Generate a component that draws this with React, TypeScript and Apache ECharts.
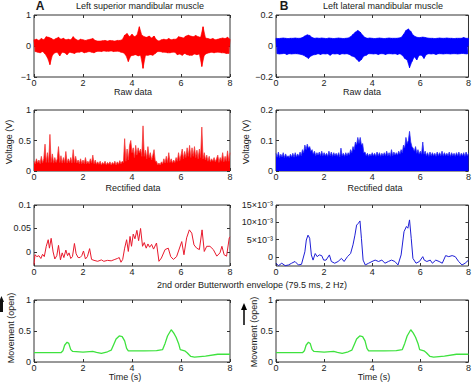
import React, { useEffect, useRef } from 'react';
import * as echarts from 'echarts';

const DT = 0.05;
const xTicks = [0, 2, 4, 6, 8];

const rawA = [
  0.2, -0.18, 0.22, -0.2, 0.18, -0.22, 0.24, -0.18, 0.2, -0.25,
  0.3, -0.38, 0.28, -0.6, 0.25, -0.3, 0.2, -0.22, 0.24, -0.2,
  0.28, -0.32, 0.22, -0.2, 0.25, -0.22, 0.2, -0.28, 0.22, -0.2,
  0.2, -0.22, 0.3, -0.24, 0.22, -0.2, 0.18, -0.2, 0.22, -0.18,
  0.2, -0.22, 0.18, -0.2, 0.2, -0.18, 0.22, -0.2, 0.24, -0.22,
  0.18, -0.18, 0.16, -0.17, 0.16, -0.18, 0.17, -0.16, 0.18, -0.17,
  0.16, -0.17, 0.18, -0.16, 0.17, -0.18, 0.16, -0.17, 0.18, -0.17,
  0.18, -0.2, 0.2, -0.22, 0.35, -0.3, 0.4, -0.5, 0.3, -0.32,
  0.38, -0.3, 0.3, -0.28, 0.35, -0.32, 0.62, -0.3, 0.35, -0.72,
  0.3, -0.3, 0.28, -0.3, 0.32, -0.28, 0.26, -0.3, 0.32, -0.24,
  0.2, -0.18, 0.16, -0.18, 0.2, -0.2, 0.22, -0.2, 0.2, -0.22,
  0.24, -0.22, 0.2, -0.2, 0.22, -0.2, 0.22, -0.28, 0.3, -0.26,
  0.28, -0.3, 0.26, -0.24, 0.32, -0.28, 0.35, -0.3, 0.32, -0.3,
  0.3, -0.26, 0.34, -0.28, 0.3, -0.26, 0.28, -0.66, 0.62, -0.3,
  0.26, -0.24, 0.24, -0.22, 0.22, -0.2, 0.24, -0.22, 0.2, -0.2,
  0.22, -0.2, 0.24, -0.22, 0.26, -0.22, 0.24, -0.24, 0.28, -0.24,
  0.22,
];

const rawB = [
  0.05, -0.05, 0.048, -0.052, 0.05, -0.05, 0.052, -0.048, 0.05, -0.055,
  0.048, -0.05, 0.05, -0.052, 0.05, -0.05, 0.052, -0.05, 0.05, -0.052,
  0.05, -0.055, 0.055, -0.06, 0.065, -0.07, 0.072, -0.08, 0.068, -0.065,
  0.055, -0.058, 0.05, -0.055, 0.052, -0.05, 0.05, -0.055, 0.052, -0.05,
  0.05, -0.052, 0.048, -0.05, 0.052, -0.06, 0.05, -0.05, 0.048, -0.052,
  0.05, -0.05, 0.052, -0.055, 0.05, -0.05, 0.048, -0.052, 0.05, -0.05,
  0.052, -0.055, 0.06, -0.065, 0.075, -0.07, 0.09, -0.085, 0.1, -0.1,
  0.09, -0.088, 0.07, -0.065, 0.055, -0.06, 0.05, -0.05, 0.052, -0.05,
  0.05, -0.052, 0.048, -0.05, 0.05, -0.055, 0.052, -0.05, 0.05, -0.05,
  0.048, -0.055, 0.05, -0.05, 0.052, -0.05, 0.05, -0.052, 0.05, -0.05,
  0.05, -0.055, 0.052, -0.05, 0.055, -0.06, 0.075, -0.08, 0.1, -0.09,
  0.11, -0.14, 0.095, -0.1, 0.07, -0.07, 0.06, -0.09, 0.055, -0.06,
  0.055, -0.06, 0.058, -0.08, 0.055, -0.055, 0.052, -0.05, 0.05, -0.052,
  0.05, -0.05, 0.048, -0.055, 0.05, -0.05, 0.052, -0.05, 0.05, -0.052,
  0.05, -0.05, 0.052, -0.05, 0.05, -0.052, 0.05, -0.05, 0.048, -0.05,
  0.05, -0.052, 0.05, -0.05, 0.05, -0.048, 0.055, -0.05, 0.05, -0.052,
  0.05,
];

const rectA = [
  0.16, 0.12, 0.2, 0.13, 0.18, 0.12, 0.24, 0.13, 0.2, 0.44,
  0.14, 0.3, 0.14, 0.6, 0.14, 0.28, 0.13, 0.22, 0.14, 0.2,
  0.4, 0.14, 0.25, 0.13, 0.22, 0.14, 0.32, 0.13, 0.2, 0.14,
  0.22, 0.13, 0.35, 0.14, 0.24, 0.13, 0.18, 0.12, 0.2, 0.12,
  0.18, 0.12, 0.22, 0.12, 0.16, 0.12, 0.2, 0.13, 0.26, 0.12,
  0.18, 0.11, 0.15, 0.11, 0.16, 0.1, 0.14, 0.11, 0.16, 0.1,
  0.14, 0.11, 0.15, 0.1, 0.14, 0.11, 0.16, 0.1, 0.15, 0.11,
  0.17, 0.12, 0.16, 0.14, 0.53, 0.16, 0.36, 0.18, 0.42, 0.5,
  0.3, 0.38, 0.22, 0.42, 0.26, 0.38, 0.3, 0.36, 0.24, 0.74,
  0.24, 0.34, 0.2, 0.4, 0.22, 0.3, 0.18, 0.26, 0.35, 0.16,
  0.16, 0.1, 0.13, 0.1, 0.15, 0.12, 0.2, 0.13, 0.24, 0.14,
  0.3, 0.14, 0.2, 0.13, 0.18, 0.14, 0.22, 0.16, 0.3, 0.17,
  0.26, 0.36, 0.2, 0.32, 0.22, 0.38, 0.24, 0.42, 0.22, 0.38,
  0.24, 0.4, 0.22, 0.34, 0.2, 0.36, 0.22, 0.72, 0.2, 0.3,
  0.18, 0.26, 0.16, 0.24, 0.15, 0.2, 0.16, 0.22, 0.15, 0.2,
  0.26, 0.14, 0.22, 0.16, 0.3, 0.15, 0.24, 0.16, 0.33, 0.16,
  0.3,
];

const rectB = [
  0.058, 0.045, 0.062, 0.044, 0.055, 0.046, 0.06, 0.044, 0.056, 0.045,
  0.05, 0.044, 0.055, 0.046, 0.058, 0.045, 0.06, 0.046, 0.056, 0.048,
  0.062, 0.05, 0.07, 0.06, 0.085, 0.07, 0.088, 0.075, 0.08, 0.065,
  0.07, 0.055, 0.065, 0.05, 0.06, 0.052, 0.062, 0.05, 0.065, 0.05,
  0.06, 0.05, 0.058, 0.048, 0.065, 0.05, 0.062, 0.048, 0.06, 0.05,
  0.058, 0.048, 0.06, 0.046, 0.075, 0.05, 0.058, 0.048, 0.06, 0.05,
  0.06, 0.052, 0.07, 0.06, 0.08, 0.07, 0.095, 0.085, 0.11, 0.09,
  0.11, 0.085, 0.09, 0.06, 0.062, 0.05, 0.058, 0.048, 0.056, 0.05,
  0.06, 0.05, 0.058, 0.048, 0.062, 0.05, 0.06, 0.048, 0.058, 0.05,
  0.06, 0.05, 0.065, 0.05, 0.06, 0.048, 0.07, 0.05, 0.062, 0.052,
  0.06, 0.052, 0.065, 0.055, 0.07, 0.06, 0.085, 0.075, 0.11, 0.09,
  0.1, 0.13, 0.095, 0.08, 0.075, 0.065, 0.08, 0.058, 0.07, 0.055,
  0.065, 0.055, 0.095, 0.055, 0.065, 0.05, 0.06, 0.048, 0.062, 0.05,
  0.06, 0.05, 0.058, 0.048, 0.062, 0.05, 0.06, 0.05, 0.065, 0.05,
  0.06, 0.05, 0.058, 0.05, 0.062, 0.048, 0.06, 0.05, 0.058, 0.048,
  0.06, 0.05, 0.062, 0.048, 0.058, 0.05, 0.06, 0.048, 0.062, 0.05,
  0.058,
];

const envATime = [
  0, 0.04, 0.12, 0.2, 0.28, 0.35, 0.42, 0.5, 0.58, 0.63, 0.7, 0.78, 0.85, 0.93,
  1.0, 1.08, 1.15, 1.22, 1.3, 1.37, 1.43, 1.5, 1.57, 1.65, 1.72, 1.8, 1.88, 1.95,
  2.02, 2.1, 2.18, 2.27, 2.35, 2.45, 2.6, 2.75, 2.85, 3.0, 3.15, 3.3, 3.4, 3.48,
  3.55, 3.62, 3.7, 3.78, 3.85, 3.92, 3.98, 4.05, 4.12, 4.2, 4.27, 4.35, 4.43, 4.5,
  4.58, 4.65, 4.72, 4.8, 4.88, 5.0, 5.1, 5.2, 5.35, 5.48, 5.58, 5.69, 5.82, 6.03,
  6.12, 6.23, 6.34, 6.44, 6.53, 6.64, 6.75, 6.86, 6.95, 7.05, 7.18, 7.32, 7.46,
  7.59, 7.67, 7.76, 7.86, 7.97, 8.0,
];
const envAVal = [
  -0.027, -0.006, -0.01, -0.008, -0.014, -0.005, -0.01, 0.012, 0.026, 0.008, 0.029, 0.0, -0.015, -0.008,
  0.014, -0.017, -0.002, -0.012, 0.004, -0.008, -0.002, -0.014, -0.01, 0.018, -0.004, -0.012, -0.012, -0.008,
  0.002, -0.015, -0.01, 0.007, -0.016, -0.018, -0.02, -0.017, -0.02, -0.018, -0.019, -0.016, -0.014, -0.012,
  -0.022, -0.016, 0.008, 0.026, 0.001, 0.033, 0.012, 0.038, 0.028, 0.046, 0.024, 0.05, 0.012, 0.02,
  0.008, 0.017, 0.01, 0.016, 0.006, 0.019, -0.02, -0.013, 0.005, 0.008, -0.01, -0.016, -0.01, 0.022,
  -0.006, 0.03, 0.047, 0.04, 0.015, 0.008, 0.005, 0.047, 0.001, 0.012, 0.012, 0.005, -0.009,
  -0.002, 0.012, -0.006, -0.009, 0.03, 0.032,
];

// values in units of 10^-3
const envBTime = [
  0.0, 0.1, 0.24, 0.38, 0.52, 0.65, 0.79, 0.93, 1.06, 1.2, 1.26, 1.33, 1.4, 1.47,
  1.54, 1.63, 1.71, 1.8, 1.9, 1.98, 2.08, 2.22, 2.3, 2.44, 2.58, 2.72, 2.83, 2.97,
  3.1, 3.2, 3.28, 3.35, 3.42, 3.49, 3.55, 3.62, 3.71, 3.85, 3.99, 4.12, 4.26, 4.4,
  4.53, 4.67, 4.8, 4.94, 5.07, 5.2, 5.32, 5.42, 5.48, 5.55, 5.62, 5.69, 5.82, 5.96,
  6.1, 6.16, 6.27, 6.41, 6.5, 6.64, 6.78, 6.91, 7.05, 7.18, 7.32, 7.45, 7.59, 7.73,
  7.86, 8.0,
];
const envBVal = [
  -1.8, -2.5, -1.8, -2.5, -2.3, -1.8, -1.3, -2.3, -2.1, 1.5, 4.9, 6.3, 5.4, 0.6,
  -0.9, 1.0, 0.1, 0.6, 0.4, -0.9, -0.9, 0.6, -1.3, -1.8, -1.3, -0.4, -1.3, 0.1,
  1.0, 3.5, 6.3, 9.2, 9.7, 10.4, 5.4, -0.9, -2.3, -1.8, -1.3, -0.9, -1.3, -0.9,
  -1.8, -1.3, -0.9, -1.3, -2.3, 0.6, 7.3, 8.8, 8.3, 10.7, 5.4, -0.4, -1.8, -1.3,
  0.1, -0.9, -1.3, -0.9, -1.8, -0.9, -1.3, -1.8, 0.4, 0.1, 0.4, 0.1, -1.3, -2.3,
  -1.8, -0.9,
];

const moveTime = [
  0, 1.1, 1.18, 1.25, 1.35, 1.42, 1.5, 1.58, 2.0, 2.4, 2.55, 2.75, 3.0, 3.15, 3.25,
  3.35, 3.48, 3.6, 3.7, 3.78, 3.85, 4.5, 5.0, 5.25, 5.35, 5.45, 5.6, 5.7, 5.8, 5.9,
  5.97, 6.15, 6.25, 6.32, 6.4, 6.55, 7.0, 7.5, 8.0,
];
const moveVal = [
  0.15, 0.15, 0.18, 0.27, 0.32, 0.3, 0.2, 0.17, 0.16, 0.17, 0.155, 0.14, 0.165, 0.19, 0.28,
  0.37, 0.42, 0.41, 0.34, 0.22, 0.18, 0.18, 0.185, 0.2, 0.3, 0.42, 0.52, 0.47, 0.4, 0.3,
  0.2, 0.18, 0.15, 0.12, 0.09, 0.08, 0.095, 0.125, 0.125,
];

const FONT = '"Liberation Sans", Arial, Helvetica, sans-serif';
const RED = '#ff0000';
const BLUE = '#0000ff';
const GREEN = '#3ee23e';
const AX = '#333333';

const minusFmt = (v: number) => String(v).replace('-', '\u2212');
const milliFmt = (v: number) => (v === 0 ? '0' : `${v}\u00d710\u207b\u00b3`);

export default function App() {
  const ref = useRef<HTMLDivElement>(null);
  useEffect(() => {
    const chart = echarts.init(ref.current!, null, { renderer: 'svg' });
    const colLeft = [34, 276];
    const rowTop = [15, 110, 205, 300];
    const rowH = [62, 61, 61, 62];
    const W = 196;
    const yCfg = [
      { min: -1, max: 1, ticks: [-1, 0, 1], fmt: minusFmt },
      { min: -0.2, max: 0.2, ticks: [-0.2, 0, 0.2], fmt: minusFmt },
      { min: 0, max: 1, ticks: [0, 0.5, 1], fmt: minusFmt },
      { min: 0, max: 0.2, ticks: [0, 0.1, 0.2], fmt: minusFmt },
      { min: -0.03, max: 0.1, ticks: [0, 0.05, 0.1], fmt: minusFmt },
      { min: -2.6, max: 15, ticks: [0, 5, 10, 15], fmt: milliFmt },
      { min: 0, max: 1, ticks: [0, 0.5, 1], fmt: minusFmt },
      { min: 0, max: 1, ticks: [0, 0.5, 1], fmt: minusFmt },
    ];
    const grid: any[] = [];
    const xAxis: any[] = [];
    const yAxis: any[] = [];
    for (let p = 0; p < 8; p++) {
      const r = Math.floor(p / 2);
      const c = p % 2;
      grid.push({
        left: colLeft[c], top: rowTop[r], width: W, height: rowH[r],
        show: true, borderColor: AX, borderWidth: 1, backgroundColor: 'transparent',
      });
      const baseX = {
        type: 'value', gridIndex: p, min: 0, max: 8, interval: 2,
        axisLine: { show: false, onZero: false }, splitLine: { show: false },
        axisTick: { inside: true, length: 3, lineStyle: { color: AX } },
      };
      xAxis.push({
        ...baseX, position: 'bottom',
        axisLabel: { fontSize: 9, color: '#222', fontFamily: FONT, margin: 1, customValues: xTicks },
      });
      xAxis.push({ ...baseX, position: 'top', axisLabel: { show: false } });
      const y = yCfg[p];
      const baseY = {
        type: 'value', gridIndex: p, min: y.min, max: y.max,
        axisLine: { show: false, onZero: false }, splitLine: { show: false },
        axisTick: { inside: true, length: 3, lineStyle: { color: AX }, customValues: y.ticks },
      };
      yAxis.push({
        ...baseY, position: 'left',
        axisLabel: { fontSize: 9, color: '#222', fontFamily: FONT, margin: 3, customValues: y.ticks, formatter: y.fmt },
      });
      yAxis.push({ ...baseY, position: 'right', axisLabel: { show: false } });
    }

    const idx = (arr: number[]) => arr.map((v, i) => [i * DT, v]);
    const pos = (arr: number[]) => idx(arr).filter((d) => d[1] >= 0);
    const neg = (arr: number[]) => idx(arr).filter((d) => d[1] < 0);
    const pairs = (t: number[], v: number[]) => t.map((tt, i) => [tt, v[i]]);
    const line = (p: number, data: number[][], color: string, width: number, extra: any = {}) => ({
      type: 'line', xAxisIndex: 2 * p, yAxisIndex: 2 * p, data, symbol: 'none',
      lineStyle: { color, width }, itemStyle: { color }, silent: true, ...extra,
    });
    const band = (p: number, data: number[][], color: string) =>
      line(p, data, color, 0.6, { areaStyle: { color, opacity: 1, origin: 0 } });

    const series = [
      band(0, pos(rawA), RED),
      band(0, neg(rawA), RED),
      line(0, idx(rawA), RED, 0.8),
      band(1, pos(rawB), BLUE),
      band(1, neg(rawB), BLUE),
      line(1, idx(rawB), BLUE, 0.8),
      line(2, idx(rectA), '#f23a3a', 0.8, { areaStyle: { color: RED, opacity: 1 } }),
      line(3, idx(rectB), '#2d2df0', 0.8, { areaStyle: { color: BLUE, opacity: 1 } }),
      line(4, pairs(envATime, envAVal), '#e8192c', 1),
      line(5, pairs(envBTime, envBVal), '#1f1fd6', 1),
      line(6, pairs(moveTime, moveVal), GREEN, 1.3),
      line(7, pairs(moveTime, moveVal), GREEN, 1.3),
    ];

    const txt = (text: string, x: number, y: number, size = 9, weight = 'normal', rot = 0) => ({
      type: 'text', x, y, rotation: rot, silent: true,
      style: {
        text, fill: '#1a1a1a', font: `${weight} ${size}px ${FONT}`,
        align: 'center', verticalAlign: 'middle',
      },
    });
    const R = Math.PI / 2;
    const graphic = [
      txt('A', 40, 6, 12, 'bold'),
      txt('Left superior mandibular muscle', 140, 6),
      txt('B', 284, 6, 12, 'bold'),
      txt('Left lateral mandibular muscle', 383, 6),
      txt('Raw data', 133, 92),
      txt('Raw data', 362, 92),
      txt('Rectified data', 133, 188),
      txt('Rectified data', 375, 188),
      txt('2nd order Butterworth envelope (79.5 ms, 2 Hz)', 252, 285),
      txt('Time (s)', 125, 377),
      txt('Time (s)', 374, 377),
      txt('Voltage (V)', 9, 142, 9, 'normal', R),
      txt('Voltage (V)', 246, 142, 9, 'normal', R),
      txt('Movement (open)', 11, 328, 9, 'normal', R),
      txt('Movement (open)', 254, 332, 9, 'normal', R),
      { type: 'line', silent: true, shape: { x1: 244, y1: 325, x2: 244, y2: 309 }, style: { stroke: '#000', lineWidth: 1.5 } },
      { type: 'polygon', silent: true, shape: { points: [[241, 310], [247, 310], [244, 303]] }, style: { fill: '#000' } },
      { type: 'rect', silent: true, shape: { x: 0, y: 301, width: 3, height: 11 }, style: { fill: '#111' } },
      { type: 'polygon', silent: true, shape: { points: [[-1, 302], [4, 302], [1.5, 296]] }, style: { fill: '#111' } },
    ];

    chart.setOption({
      animation: false,
      backgroundColor: '#ffffff',
      grid, xAxis, yAxis, series, graphic,
    });
    return () => chart.dispose();
  }, []);
  return <div ref={ref} style={{ position: 'absolute', left: 0, top: 0, width: 474, height: 383 }} />;
}
